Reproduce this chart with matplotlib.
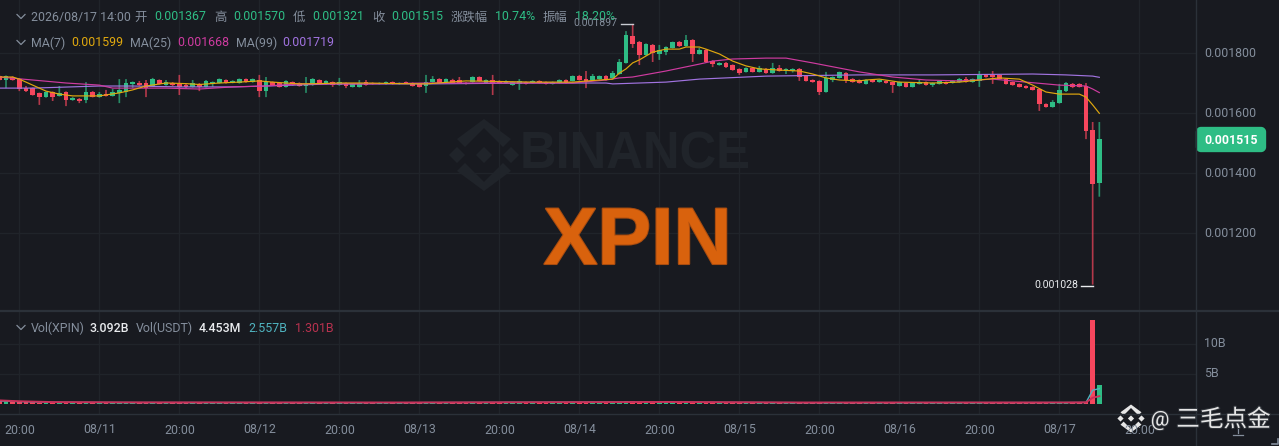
import numpy as np
import matplotlib
matplotlib.use("Agg")
import matplotlib.pyplot as plt
import matplotlib.patheffects as pe
from matplotlib.patches import FancyBboxPatch, Polygon

plt.rcParams['font.family'] = ['Roboto', 'Noto Sans CJK SC', 'DejaVu Sans']

# Цены свечей, в миллионных долях
opens = [1723,1710,1720,1713,1683,1683,1667,1653,1670,1657,
         1670,1643,1647,1643,1670,1653,1663,1657,1667,1670,
         1697,1700,1700,1690,1710,1693,1700,1697,1693,1687,
         1697,1687,1697,1700,1710,1700,1700,1713,1703,1710,
         1673,1703,1700,1687,1703,1700,1690,1693,1710,1697,
         1703,1693,1700,1687,1687,1703,1700,1697,1697,1703,
         1697,1703,1700,1697,1690,1703,1713,1703,1710,1710,
         1700,1703,1720,1700,1710,1707,1700,1693,1697,1703,
         1700,1707,1703,1697,1700,1710,1707,1723,1713,1710,
         1713,1723,1717,1730,1767,1857,1837,1793,1827,1797,
         1803,1817,1837,1823,1843,1797,1810,1773,1760,1767,
         1760,1747,1737,1750,1737,1747,1733,1750,1740,1740,
         1747,1723,1710,1707,1670,1710,1717,1733,1713,1710,
         1697,1710,1703,1707,1703,1690,1700,1687,1697,1703,
         1693,1697,1703,1700,1703,1713,1703,1707,1727,1727,
         1727,1713,1703,1697,1690,1687,1680,1630,1620,1633,
         1673,1697,1697,1690,1543,1367]
highs = [1727,1725,1722,1715,1690,1685,1668,1672,1672,1690,
         1672,1653,1650,1703,1673,1670,1677,1680,1713,1713,
         1705,1707,1710,1717,1712,1710,1703,1727,1697,1710,
         1700,1710,1705,1715,1712,1709,1715,1715,1715,1727,
         1720,1705,1702,1709,1705,1702,1720,1716,1712,1709,
         1705,1717,1702,1699,1710,1710,1702,1702,1705,1705,
         1702,1705,1702,1699,1727,1723,1716,1715,1714,1720,
         1703,1722,1722,1712,1727,1709,1709,1705,1713,1705,
         1709,1709,1705,1705,1712,1712,1725,1727,1740,1730,
         1725,1726,1740,1780,1873,1897,1840,1832,1830,1827,
         1822,1838,1840,1860,1846,1817,1813,1776,1769,1770,
         1762,1749,1752,1752,1757,1750,1767,1760,1749,1749,
         1750,1726,1712,1709,1737,1722,1738,1736,1716,1712,
         1712,1712,1712,1709,1705,1705,1702,1702,1710,1705,
         1702,1709,1705,1709,1717,1720,1715,1740,1729,1740,
         1729,1715,1705,1699,1692,1689,1682,1632,1643,1697,
         1703,1700,1699,1700,1570,1570]
lows = [1707,1683,1708,1673,1670,1658,1627,1651,1640,1655,
        1623,1641,1633,1633,1652,1651,1655,1655,1633,1653,
        1683,1690,1653,1688,1695,1691,1690,1660,1680,1685,
        1673,1685,1687,1698,1698,1699,1698,1701,1701,1653,
        1653,1692,1685,1685,1691,1688,1667,1691,1695,1695,
        1687,1691,1683,1685,1685,1691,1695,1695,1695,1695,
        1695,1698,1688,1685,1667,1701,1698,1701,1698,1698,
        1695,1701,1705,1698,1660,1698,1698,1691,1677,1695,
        1698,1698,1695,1695,1698,1698,1705,1708,1683,1708,
        1711,1708,1715,1728,1765,1817,1760,1791,1770,1777,
        1793,1815,1820,1821,1770,1795,1768,1753,1758,1750,
        1741,1727,1735,1735,1735,1731,1731,1738,1730,1735,
        1707,1705,1701,1660,1668,1703,1715,1700,1701,1698,
        1695,1701,1701,1698,1667,1688,1685,1685,1695,1691,
        1687,1695,1695,1698,1701,1701,1701,1687,1718,1697,
        1711,1695,1691,1685,1681,1675,1607,1618,1618,1631,
        1670,1683,1685,1513,1028,1321]
closes = [1710,1723,1710,1680,1673,1660,1653,1670,1653,1667,
          1643,1650,1640,1670,1653,1663,1657,1670,1677,1700,
          1703,1693,1683,1713,1697,1703,1693,1687,1687,1700,
          1687,1707,1703,1713,1700,1707,1713,1703,1713,1673,
          1703,1693,1687,1707,1693,1690,1697,1713,1697,1707,
          1693,1703,1690,1697,1700,1693,1697,1700,1703,1697,
          1700,1700,1690,1687,1703,1713,1700,1713,1700,1700,
          1697,1720,1707,1710,1700,1700,1707,1703,1707,1697,
          1707,1700,1697,1703,1710,1700,1723,1710,1703,1723,
          1723,1710,1733,1770,1860,1830,1793,1830,1800,1810,
          1820,1837,1823,1843,1797,1810,1770,1763,1767,1753,
          1743,1733,1750,1737,1750,1733,1750,1740,1747,1747,
          1720,1707,1703,1670,1717,1720,1737,1710,1703,1700,
          1710,1703,1710,1700,1693,1703,1687,1700,1703,1693,
          1700,1707,1697,1707,1713,1703,1713,1727,1720,1720,
          1713,1697,1693,1687,1683,1677,1630,1620,1637,1677,
          1700,1687,1687,1540,1363,1515]

# Скользящие средние
ma7_idx = [0,2,3,5,7,9,11,15,18,20,22,25,28,30,33,36,39,41,45,48,51,55,60,64,70,80,86,90,92,93,94,95,96,98,
           100,102,103,105,106,108,110,112,114,117,120,122,124,126,129,130,132,135,140,144,147,150,153,155,
           157,159,162,163,164,165]
ma7 = [1720,1720,1713,1693,1673,1663,1657,1657,1667,1677,1690,1700,1698,1695,1700,1703,1707,1703,1697,1698,1700,
       1700,1698,1697,1707,1703,1703,1710,1713,1733,1747,1767,1777,1803,
       1813,1813,1820,1820,1813,1797,1773,1757,1747,1743,1740,1730,1717,1710,1707,1710,1713,1703,1700,1703,1710,
       1717,1713,1693,1670,1663,1663,1653,1627,1599]
ma25_idx = [0,5,10,15,17,25,30,35,40,45,55,64,80,86,91,93,95,100,105,107,110,115,118,122,129,134,139,144,149,154,
            159,163,164,165]
ma25 = [1720,1710,1700,1693,1683,1683,1680,1687,1690,1697,1697,1700,1700,1700,1710,1717,1720,1740,1763,1773,1780,
        1783,1783,1767,1737,1720,1710,1707,1713,1703,1693,1690,1680,1668]
ma99_idx = [0,5,15,20,27,35,40,50,64,80,91,92,100,105,115,129,140,155,160,164,165]
ma99 = [1683,1683,1690,1690,1687,1687,1690,1697,1697,1700,1700,1697,1703,1713,1723,1727,1727,1730,1727,1723,1719]

# Объёмы, млрд
volumes = [0.50,0.45,0.40,0.30,0.25,0.25,0.22,0.20,0.20,0.22,0.25,0.18,0.15,0.30,0.20,0.15,0.15,0.18,0.22,0.30,
           0.15,0.15,0.25,0.25,0.18,0.15,0.15,0.30,0.15,0.18,0.15,0.20,0.15,0.18,0.15,0.15,0.18,0.15,0.18,0.40,
           0.35,0.15,0.18,0.20,0.15,0.15,0.25,0.22,0.15,0.18,0.15,0.18,0.15,0.15,0.15,0.15,0.12,0.12,0.12,0.12,
           0.12,0.12,0.15,0.15,0.25,0.20,0.15,0.15,0.15,0.15,0.12,0.18,0.15,0.15,0.30,0.12,0.12,0.12,0.20,0.12,
           0.12,0.12,0.12,0.12,0.15,0.15,0.18,0.15,0.25,0.15,0.15,0.15,0.20,0.30,0.45,0.45,0.35,0.25,0.25,0.20,
           0.18,0.18,0.15,0.22,0.25,0.15,0.20,0.15,0.12,0.12,0.15,0.12,0.12,0.12,0.12,0.12,0.15,0.12,0.12,0.12,
           0.18,0.15,0.12,0.22,0.25,0.12,0.15,0.15,0.12,0.12,0.12,0.12,0.12,0.12,0.15,0.12,0.12,0.12,0.12,0.12,
           0.12,0.12,0.12,0.12,0.15,0.15,0.12,0.20,0.12,0.15,0.12,0.15,0.12,0.12,0.12,0.12,0.25,0.12,0.15,0.25,
           0.20,0.15,0.12,0.35,14.0,3.092]
vol_ma5_idx = [0,3,8,20,60,94,100,120,160,163,164,165]
vol_ma5 = [0.50,0.40,0.28,0.24,0.22,0.33,0.30,0.22,0.24,0.25,2.3,2.557]
vol_ma10_idx = [0,3,8,20,60,94,100,120,160,163,164,165]
vol_ma10 = [0.60,0.45,0.32,0.27,0.25,0.32,0.34,0.25,0.25,0.28,1.05,1.301]

# Подписи осей
tick_idx = [3,15,27,39,51,63,75,87,99,111,123,135,147,159,171]
tick_labels = ["20:00","08/11","20:00","08/12","20:00","08/13","20:00","08/14",
               "20:00","08/15","20:00","08/16","20:00","08/17","20:00"]
price_ticks = [1200,1400,1600,1800]
vol_ticks = [5,10]

BG = "#181a20"
GRID = "#20242a"
BORDER = "#2b3139"
GREEN = "#2ebd85"
RED = "#f6465d"
MUTED = "#848e9c"
YELLOW = "#e0a80e"
PINK = "#cf3ba0"
PURPLE = "#a173e0"
W, H = 1279, 446

fig = plt.figure(figsize=(W / 100, H / 100), dpi=100, facecolor=BG)

AX_R = 1196
ax = fig.add_axes([0, (H - 311) / H, AX_R / W, 311 / H], facecolor=BG)
ax_vol = fig.add_axes([0, (H - 414) / H, AX_R / W, 103 / H], facecolor=BG)

x = np.arange(len(opens))
o, h, l, c = [np.array(a) for a in (opens, highs, lows, closes)]
colors = [GREEN if b >= a else RED for a, b in zip(o, c)]

for a in (ax, ax_vol):
    a.set_xlim(0.1, 179.5)
    a.set_xticks(tick_idx)
    a.grid(True, color=GRID, lw=1)
    a.set_axisbelow(True)
    a.tick_params(length=0, labelbottom=False, labelleft=False)
    for s in a.spines.values():
        s.set_visible(False)

ax.set_ylim(940, 1976.7)
ax.set_yticks(price_ticks)
ax_vol.set_ylim(-1.667, 15.5)
ax_vol.set_yticks(vol_ticks)

# свечи
ax.vlines(x, l, h, colors=colors, lw=1.2, alpha=0.7, snap=False)
ax.bar(x, np.maximum(np.abs(c - o), 3), bottom=np.minimum(o, c), width=0.72, color=colors)

# средние
ax.plot(ma99_idx, ma99, color=PURPLE, lw=0.85, zorder=4)
ax.plot(ma25_idx, ma25, color=PINK, lw=0.85, zorder=5)
ax.plot(ma7_idx, ma7, color=YELLOW, lw=0.85, zorder=6)

# объёмы
ax_vol.bar(x, volumes, width=0.72, color=colors)
ax_vol.plot(vol_ma5_idx, vol_ma5, color="#4fb3bf", lw=1.0, zorder=4)
ax_vol.plot(vol_ma10_idx, vol_ma10, color="#c9305a", lw=1.4, zorder=5)

# верхний слой в пикселях картинки
ov = fig.add_axes([0, 0, 1, 1], facecolor="none")
ov.set_xlim(0, W)
ov.set_ylim(H, 0)
ov.axis("off")


def label(px, py, s, color=MUTED, size=8.9, **kw):
    kw.setdefault("va", "center")
    ov.text(px, py, s, color=color, fontsize=size, **kw)


def chevron(py):
    ov.plot([17, 21, 25], [py - 2.5, py + 1.5, py - 2.5], color=MUTED, lw=0.9)


# рамки панелей
ov.plot([AX_R, AX_R], [0, H], color=BORDER, lw=1)
ov.plot([0, W], [311, 311], color=BORDER, lw=1.6)
ov.plot([0, W], [414, 414], color=BORDER, lw=1)

# шапка
chevron(17)
label(31, 17, "2026/08/17 14:00")
for px, s in [(134, "开"), (214, "高"), (292.5, "低"), (372, "收"), (451, "涨跌幅"), (543, "振幅")]:
    label(px, 17, s)
for px, s in [(154.5, "0.001367"), (233.5, "0.001570"), (312.5, "0.001321"), (391.5, "0.001515"),
              (495, "10.74%"), (575.5, "18.20%")]:
    label(px, 17, s, color=GREEN)

chevron(43)
for px, s, col in [(31, "MA(7)", MUTED), (71, "0.001599", YELLOW), (130, "MA(25)", MUTED),
                   (177, "0.001668", PINK), (236, "MA(99)", MUTED), (282.5, "0.001719", PURPLE)]:
    label(px, 43, s, color=col)

chevron(328)
for px, s, col, wt in [(31, "Vol(XPIN)", MUTED, "normal"), (90, "3.092B", "#eaecef", "medium"),
                       (136, "Vol(USDT)", MUTED, "normal"), (199, "4.453M", "#eaecef", "medium"),
                       (248, "2.557B", "#4fb3bf", "normal"), (294.5, "1.301B", "#b8324f", "normal")]:
    label(px, 328, s, color=col, fontweight=wt)

# максимум и минимум
label(617, 23.5, "0.001897", color=MUTED, size=7.6, ha="right")
ov.plot([621, 633], [24, 24], color="#c8ccd2", lw=1)
label(1078, 285, "0.001028", color="#eaecef", size=7.6, ha="right")
ov.plot([1081, 1093], [285.5, 285.5], color="#eaecef", lw=1)

# подписи шкал
for p in price_ticks:
    py = ax.transData.transform((0, p))[1]
    label(1204, H - py, f"0.00{p}")
for v in vol_ticks:
    py = ax_vol.transData.transform((0, v))[1]
    label(1204, H - py, f"{v}B")
for t, s in zip(tick_idx, tick_labels):
    px = ax.transData.transform((t, 0))[0]
    label(px, 430, s, ha="center")

# текущая цена
ov.add_patch(FancyBboxPatch((1200, 131), 62, 17, boxstyle="round,pad=0,rounding_size=1", mutation_aspect=1,
                            fc=GREEN, ec=GREEN, lw=6, joinstyle="round"))
label(1231, 140, "0.001515", color="white", fontweight="bold", ha="center")


def binance_logo(cx, cy, r, color):
    s = r / 36
    small = 8 * s
    for dx, dy in [(0, 0), (-27 * s, 0), (27 * s, 0)]:
        ov.add_patch(Polygon([(cx + dx - small, cy + dy), (cx + dx, cy + dy - small),
                              (cx + dx + small, cy + dy), (cx + dx, cy + dy + small)], fc=color, ec="none"))
    for sgn in (-1, 1):
        ov.add_patch(Polygon([(cx - 19 * s, cy + sgn * 8 * s), (cx, cy + sgn * 27 * s), (cx + 19 * s, cy + sgn * 8 * s),
                              (cx + 27 * s, cy + sgn * 16 * s), (cx, cy + sgn * 36 * s), (cx - 27 * s, cy + sgn * 16 * s)],
                             fc=color, ec="none"))


# водяной знак
binance_logo(484, 155, 36, "#20242a")
ov.text(635.5, 155, "BINANCE", color="#20242a", fontsize=36.5, fontweight="bold",
        family="Liberation Sans", ha="center", va="center")

ov.text(637.5, 243, "XPIN", color="#d9620d", fontsize=58, fontweight="bold", family="Liberation Sans",
        ha="center", va="center",
        path_effects=[pe.withStroke(linewidth=1.5, foreground="#a84c10")])

# подпись автора
binance_logo(1131, 418.5, 14, "#e6e6e6")
ov.text(1160, 420, "@", color="#e6e6e6", fontsize=15, ha="center", va="center",
        path_effects=[pe.withStroke(linewidth=1.5, foreground="#30343a")])
ov.text(1223.5, 420, "三毛点金", color="#e6e6e6", fontsize=17, family=["Noto Sans CJK SC", "DejaVu Sans"],
        ha="center", va="center", path_effects=[pe.withStroke(linewidth=1.5, foreground="#30343a")])

# мелкие значки внизу справа
ov.plot([1233, 1243], [435, 435], color=MUTED, lw=0.9)
ov.plot([1238, 1238], [428, 433], color=MUTED, lw=0.9)
ov.plot([1272, 1278, 1278], [444, 444, 439], color=MUTED, lw=1.2)

fig.savefig("out.png", dpi=100, facecolor=BG)
